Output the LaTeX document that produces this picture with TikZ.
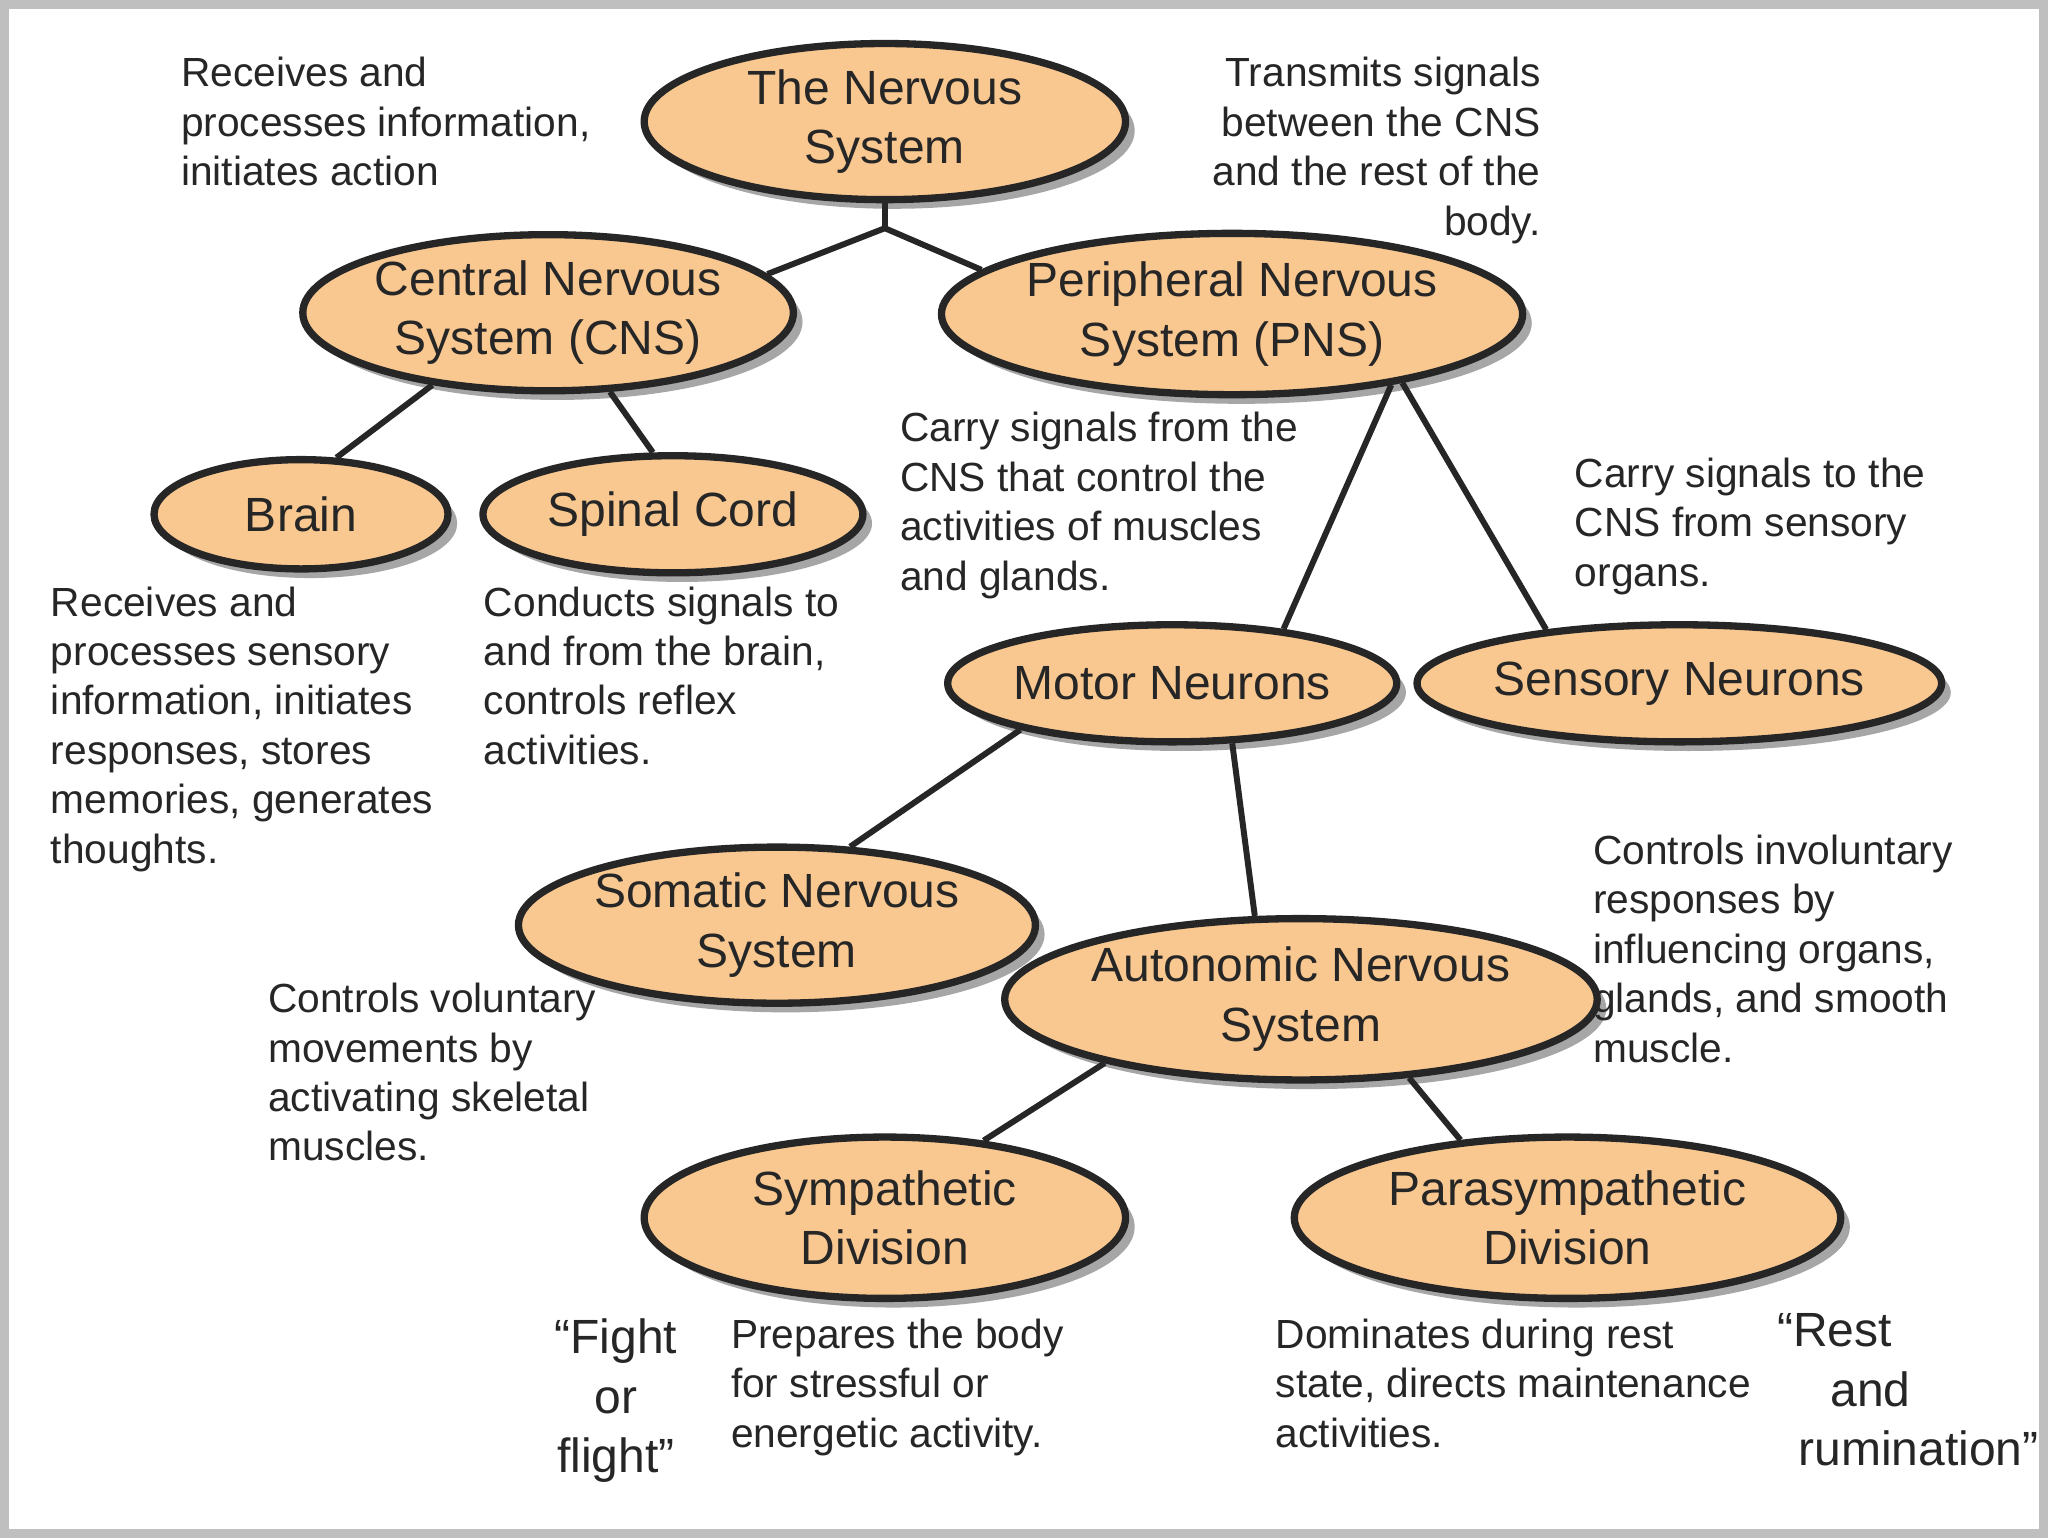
\documentclass[tikz,border=0pt]{standalone}
\usepackage{fontspec}
\setmainfont{Liberation Sans}
\usetikzlibrary{shapes.geometric}
\definecolor{eorange}{RGB}{249,200,145}
\begin{document}
\begin{tikzpicture}[x=0.01cm,y=-0.01cm,
 ell/.style={ellipse,draw=black!85,line width=1.6pt,fill=eorange,inner sep=0pt,
   font=\fontsize{10.5}{13}\selectfont,align=center,text=black!85,
   preaction={fill=black!35,transform canvas={shift={(2pt,-2pt)}}}},
 note/.style={inner sep=0pt,font=\fontsize{8.9}{10.8}\selectfont,align=left,text=black!85},
 big/.style={inner sep=0pt,font=\fontsize{10.5}{13}\selectfont,align=center,text=black!85},
 con/.style={line width=1.3pt,black!85}]
\draw[black!25,line width=2pt,fill=white] (0,0) rectangle (1568,1176);
\node[ell,minimum width=3.7cm,minimum height=1.2cm] (ner) at (677,90) {The Nervous\\System};
\node[ell,minimum width=3.7cm,minimum height=1.2cm] (cns) at (418,237) {Central Nervous\\System (CNS)};
\node[ell,minimum width=4.24cm,minimum height=1.24cm] (pns) at (944,238) {Peripheral Nervous\\System (PNS)};
\node[ell,minimum width=2.26cm,minimum height=0.84cm] (brn) at (228,392) {Brain};
\node[ell,minimum width=2.92cm,minimum height=0.9cm] (spc) at (514,392) {Spinal Cord};
\node[ell,minimum width=3.3cm,minimum height=0.9cm] (mot) at (898,522) {Motor Neurons};
\node[ell,minimum width=3.7cm,minimum height=0.9cm] (sen) at (1288,522) {Sensory Neurons};
\node[ell,minimum width=3.7cm,minimum height=1.2cm] (som) at (594,708) {Somatic Nervous\\System};
\node[ell,minimum width=4.14cm,minimum height=1.24cm] (aut) at (997,765) {Autonomic Nervous\\System};
\node[ell,minimum width=3.7cm,minimum height=1.24cm] (sym) at (677,933) {Sympathetic\\Division};
\node[ell,minimum width=4.2cm,minimum height=1.24cm] (par) at (1202,933) {Parasympathetic\\Division};
\coordinate (j) at (677,172);
\draw[con] (ner.south) -- (j);
\draw[con] (j) -- (cns.10);
\draw[con] (j) -- (pns.170);
\draw[con] (cns.-148) -- (brn.58);
\draw[con] (cns.-52) -- (spc.108);
\draw[con] (pns.-24) -- (mot.26);
\draw[con] (pns.-22) -- (sen.158);
\draw[con] (mot.-163) -- (som.47);
\draw[con] (mot.-45) -- (aut.119);
\draw[con] (aut.-162) -- (sym.38);
\draw[con] (aut.-36) -- (par.144);
\node[note,anchor=north west] (t1) at (135,40) {Receives and\\processes information,\\initiates action};
\node[note,anchor=north east,align=right] (t2) at (1182,40) {Transmits signals\\between the CNS\\and the rest of the\\body.};
\node[note,anchor=north west] (t3) at (35,447) {Receives and\\processes sensory\\information, initiates\\responses, stores\\memories, generates\\thoughts.};
\node[note,anchor=north west] (t4) at (368,447) {Conducts signals to\\and from the brain,\\controls reflex\\activities.};
\node[note,anchor=north west] (t5) at (688,313) {Carry signals from the\\CNS that control the\\activities of muscles\\and glands.};
\node[note,anchor=north west] (t6) at (1207,348) {Carry signals to the\\CNS from sensory\\organs.};
\node[note,anchor=north west] (t7) at (1221,638) {Controls involuntary\\responses by\\influencing organs,\\glands, and smooth\\muscle.};
\node[note,anchor=north west] (t8) at (202,752) {Controls voluntary\\movements by\\activating skeletal\\muscles.};
\node[big,anchor=north] (t9) at (470,1010) {“Fight\\or\\flight”};
\node[note,anchor=north west] (t10) at (558,1010) {Prepares the body\\for stressful or\\energetic activity.};
\node[note,anchor=north west] (t11) at (977,1010) {Dominates during rest\\state, directs maintenance\\activities.};
\node[big,anchor=north] (t12) at (1435,1006) {“Rest\hspace*{1.5em}\\and\hspace*{1.5em}\\\hspace*{2em}rumination”};
\end{tikzpicture}
\end{document}
